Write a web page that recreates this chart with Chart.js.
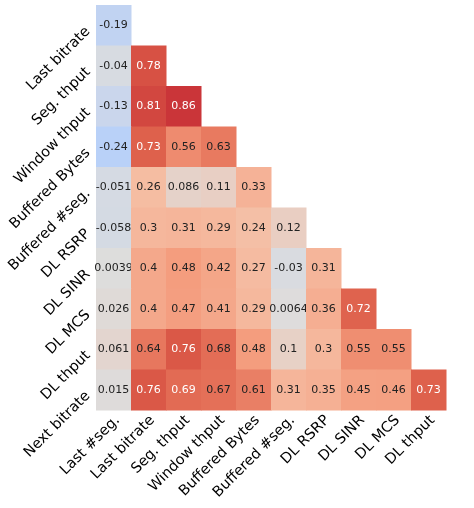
<!DOCTYPE html>
<html>
<head>
<meta charset="utf-8">
<script src="https://cdn.jsdelivr.net/npm/chart.js@4"></script>
<style>
  body { margin: 0; background: #fff; }
  #wrap { width: 474px; height: 508px; }
</style>
</head>
<body>
<div id="wrap"><canvas id="c"></canvas></div>
<script>
const rowLabels = ['Last bitrate', 'Seg. thput', 'Window thput', 'Buffered Bytes', 'Buffered #seg.',
    'DL RSRP', 'DL SINR', 'DL MCS', 'DL thput', 'Next bitrate'];
const colLabels = ['Last #seg.', 'Last bitrate', 'Seg. thput', 'Window thput', 'Buffered Bytes',
    'Buffered #seg.', 'DL RSRP', 'DL SINR', 'DL MCS', 'DL thput'];
const corrValues = [
    [-0.19],
    [-0.04, 0.78],
    [-0.13, 0.81, 0.86],
    [-0.24, 0.73, 0.56, 0.63],
    [-0.051, 0.26, 0.086, 0.11, 0.33],
    [-0.058, 0.3, 0.31, 0.29, 0.24, 0.12],
    [0.0039, 0.4, 0.48, 0.42, 0.27, -0.03, 0.31],
    [0.026, 0.4, 0.47, 0.41, 0.29, 0.0064, 0.36, 0.72],
    [0.061, 0.64, 0.76, 0.68, 0.48, 0.1, 0.3, 0.55, 0.55],
    [0.015, 0.76, 0.69, 0.67, 0.61, 0.31, 0.35, 0.45, 0.46, 0.73]
];

// coolwarm-like, value range -1..1
const stops = [
    [0.0, [59, 76, 192]], [0.125, [89, 119, 227]], [0.25, [124, 159, 249]],
    [0.375, [184, 208, 249]], [0.5, [221, 221, 221]], [0.625, [245, 190, 164]],
    [0.75, [244, 154, 123]], [0.875, [220, 92, 72]], [1.0, [180, 4, 38]]
];
function coolwarm(v) {
    const t = Math.max(0, Math.min(1, (v + 1) / 2));
    for (let i = 1; i < stops.length; i++) {
        if (t <= stops[i][0]) {
            const [t0, c0] = stops[i - 1], [t1, c1] = stops[i];
            const f = (t - t0) / (t1 - t0);
            return c0.map((c, k) => Math.round(c + (c1[k] - c) * f));
        }
    }
    return stops[stops.length - 1][1];
}

const points = [];
corrValues.forEach((row, r) => row.forEach((v, c) => points.push({ x: c, y: r, v: v })));

const heatmap = {
    id: 'heatmap',
    beforeDatasetsDraw(chart) {
        const { ctx } = chart;
        const xs = chart.scales.x, ys = chart.scales.y;
        const w = Math.abs(xs.getPixelForValue(1) - xs.getPixelForValue(0));
        const h = Math.abs(ys.getPixelForValue(1) - ys.getPixelForValue(0));
        ctx.save();
        points.forEach(p => {
            const cx = xs.getPixelForValue(p.x), cy = ys.getPixelForValue(p.y);
            const col = coolwarm(p.v);
            ctx.fillStyle = `rgb(${col.join(',')})`;
            ctx.fillRect(cx - w / 2, cy - h / 2, w + 0.5, h + 0.5);
            const lum = (0.299 * col[0] + 0.587 * col[1] + 0.114 * col[2]) / 255;
            ctx.fillStyle = lum < 0.55 ? '#fff' : '#222';
            ctx.font = '11px "DejaVu Sans"';
            ctx.textAlign = 'center';
            ctx.textBaseline = 'middle';
            ctx.fillText(String(p.v), cx, cy);
        });
        // tick labels, rotated 45 degrees
        ctx.fillStyle = '#000';
        ctx.font = '14.5px "DejaVu Sans"';
        ctx.textAlign = 'right';
        ctx.textBaseline = 'middle';
        colLabels.forEach((lab, i) => {
            const x = xs.getPixelForValue(i), y = chart.chartArea.bottom + 8;
            ctx.save();
            ctx.translate(x + 4, y);
            ctx.rotate(-Math.PI / 4);
            ctx.fillText(lab, 0, 0);
            ctx.restore();
        });
        rowLabels.forEach((lab, i) => {
            const y = ys.getPixelForValue(i), x = chart.chartArea.left - 8;
            ctx.save();
            ctx.translate(x, y + 4);
            ctx.rotate(-Math.PI / 4);
            ctx.fillText(lab, 0, 0);
            ctx.restore();
        });
        ctx.restore();
    }
};

new Chart(document.getElementById('c'), {
    type: 'scatter',
    data: { datasets: [{ data: points, pointRadius: 0 }] },
    options: {
        responsive: true,
        maintainAspectRatio: false,
        animation: false,
        layout: { padding: { left: 96, right: 28, top: 5, bottom: 98 } },
        scales: {
            x: { type: 'linear', min: -0.5, max: 9.5, display: false },
            y: { type: 'linear', min: -0.5, max: 9.5, reverse: true, display: false }
        },
        plugins: { legend: { display: false }, tooltip: { enabled: false } }
    },
    plugins: [heatmap]
});
</script>
</body>
</html>
